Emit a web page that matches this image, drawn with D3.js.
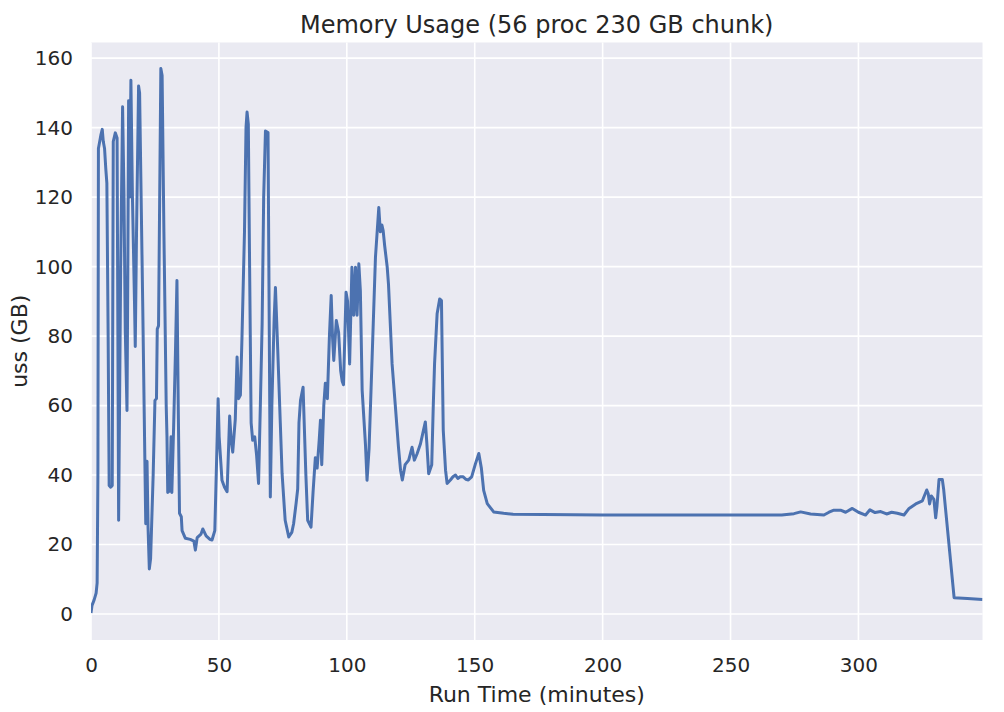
<!DOCTYPE html>
<html>
<head>
<meta charset="utf-8">
<script src="https://cdn.jsdelivr.net/npm/d3@7"></script>
<style>
  body { margin: 0; background: #fff; }
  svg text { font-family: "DejaVu Sans", sans-serif; fill: #262626; }
</style>
</head>
<body>
<svg id="chart" width="1004" height="712"></svg>
<script>
// run time in minutes
var minutes = [
  0, 0.4, 1.2, 2.0, 2.4, 2.7, 2.9, 3.4, 3.9, 4.4, 4.8, 5.3, 5.8, 6.2, 6.7, 7.1, 7.7, 8.3, 8.7, 9.5,
  10.2, 10.8, 11.6, 12.35, 12.9, 13.4, 14.07, 14.4, 14.7, 15.1, 15.6, 16.2, 17.0, 17.3, 17.8, 18.6, 19.0, 20.2, 21.4, 21.9,
  22.3, 22.8, 23.3, 24.3, 25.0, 25.6, 25.9, 26.4, 27.3, 27.8, 28.5, 29.4, 29.7, 30.0, 30.8, 31.3, 31.6, 32.3, 33.0, 33.6,
  34.1, 34.6, 35.3, 35.6, 36.9, 38.8, 40.2, 40.8, 41.5, 43.0, 43.7, 45.0, 46.5, 47.3, 48.4, 49.3, 49.7, 50.1, 51.2, 52.2,
  53.2, 54.2, 54.8, 55.4, 56.4, 57.1, 57.7, 58.4, 59.0, 60.0, 60.6, 61.0, 61.5, 62.0, 62.6, 63.2, 64.0, 64.7, 65.5, 66.2,
  66.9, 67.5, 68.2, 69.2, 69.7, 70.1, 70.7, 71.6, 72.1, 73.0, 74.0, 74.7, 75.9, 77.3, 78.5, 79.2, 80.2, 80.8, 81.3, 81.9,
  82.9, 83.3, 84.0, 84.7, 86.0, 86.8, 87.7, 88.4, 89.2, 89.7, 90.2, 91.0, 91.6, 92.4, 93.2, 93.9, 94.4, 94.9, 95.9, 96.8,
  97.6, 98.2, 98.7, 99.7, 100.3, 101.1, 102.0, 102.7, 103.4, 104.0, 104.7, 105.3, 106.0, 107.3, 107.9, 108.7, 109.9, 111.2, 112.5, 113.1,
  113.7, 114.2, 114.8, 115.8, 116.3, 117.7, 119.0, 120.2, 121.0, 121.7, 122.8, 124.2, 125.5, 126.4, 127.4, 128.8, 129.7, 130.7, 131.3, 132.0,
  133.2, 133.8, 134.3, 135.3, 136.3, 137.0, 137.7, 138.6, 139.2, 140.5, 141.5, 142.5, 143.4, 144.3, 145.5, 146.5, 147.5, 148.8, 150.3, 151.6,
  152.6, 153.5, 154.9, 157.4, 161.3, 165, 200, 250, 270, 274.8, 277.4, 281.3, 286.5, 288.5, 290.4, 293, 295, 297.6, 300, 302.8,
  304.5, 306.5, 308.7, 311, 313, 315.2, 317.8, 319.8, 322.4, 325, 326.7, 327.3, 327.8, 328.5, 329.5, 330.2, 330.7, 331.5, 332.8, 333.3,
  337.4, 342.6, 348.5
];

// uss in GB at each of those times
var ussGB = [
  0.3, 2.5, 4, 6, 9, 40, 134, 136, 138, 139.5, 136, 134, 128, 124, 80, 37, 36.5, 37, 136, 138.5,
  137, 27, 100, 146, 120, 81.6, 58.6, 100, 147.7, 120, 153.6, 120, 90, 77, 110, 152, 150, 90, 26, 44,
  25, 13, 16, 40, 61.5, 62, 82, 83, 157, 155, 110, 60, 51, 35, 35.5, 51, 35, 53.8, 75, 96,
  60, 29, 28, 24, 21.8, 21.5, 21, 18.4, 22, 23, 24.5, 22.5, 21.5, 21.3, 24, 50, 62, 51, 38.5, 36.5,
  35.2, 57, 50, 46.6, 56, 74, 62, 63, 79, 110, 140, 144.5, 141, 100, 55, 50, 51, 46, 37.6, 60,
  83.6, 120, 139, 138.6, 80, 33.7, 60, 85, 94, 76, 55, 40.4, 27, 22.2, 23.5, 26, 32, 36, 55, 61.5,
  65.3, 56, 40, 27, 25, 35, 45, 42, 50, 55.8, 43, 60, 66.4, 62, 80, 91.7, 80, 73, 84.5, 81,
  70, 67, 66, 92.6, 90, 72, 99.8, 86, 99.8, 86, 100.8, 93, 64.4, 48.7, 38.5, 47.6, 74, 102.7, 117, 110,
  112, 110.4, 106, 99.8, 94.8, 72, 59.6, 48, 41.4, 38.6, 43, 44.3, 48, 44.3, 46, 49, 52, 55.3, 49, 40.4,
  43, 60, 72, 86.4, 90.7, 90.2, 52.9, 41.4, 37.6, 38.6, 39.5, 40, 39, 39.5, 39.5, 38.8, 38.6, 39.5, 43.3, 46.2,
  42, 35.6, 31.8, 29.4, 29, 28.7, 28.5, 28.5, 28.5, 28.9, 29.4, 28.8, 28.5, 29.3, 29.9, 29.9, 29.3, 30.4, 29.3, 28.5,
  30, 29.2, 29.5, 28.8, 29.3, 29, 28.5, 30.4, 31.7, 32.6, 35.7, 34.6, 31.7, 34, 33, 27.7, 31, 38.7, 38.7, 36,
  4.7, 4.5, 4.2
];

var xTicks = [0, 50, 100, 150, 200, 250, 300];
var yTicks = [0, 20, 40, 60, 80, 100, 120, 140, 160];

var titleText = 'Memory Usage (56 proc 230 GB chunk)',
    xLabelText = 'Run Time (minutes)',
    yLabelText = 'uss (GB)';

var margin = { top: 42.5, right: 21.5, bottom: 72, left: 91 },
    width = 1004 - margin.left - margin.right,
    height = 712 - margin.top - margin.bottom;

var svg = d3.select('#chart');

var x = d3.scaleLinear().domain([0, 348.5]).range([0, width]);
var y = d3.scaleLinear().domain([-7.47, 164.5]).range([height, 0]);

var g = svg.append('g')
    .attr('transform', 'translate(' + margin.left + ',' + margin.top + ')');

// seaborn darkgrid face
g.append('rect')
    .attr('width', width)
    .attr('height', height)
    .attr('fill', '#EAEAF2');

// grid lines
g.append('g')
    .attr('class', 'grid')
    .selectAll('line.xg')
    .data(xTicks)
    .enter().append('line')
    .attr('x1', function (d) { return x(d); })
    .attr('x2', function (d) { return x(d); })
    .attr('y1', 0)
    .attr('y2', height)
    .attr('stroke', '#fff')
    .attr('stroke-width', 1.6);

g.append('g')
    .attr('class', 'grid')
    .selectAll('line.yg')
    .data(yTicks)
    .enter().append('line')
    .attr('x1', 0)
    .attr('x2', width)
    .attr('y1', function (d) { return y(d); })
    .attr('y2', function (d) { return y(d); })
    .attr('stroke', '#fff')
    .attr('stroke-width', 1.6);

// axes, no spines, no tick marks
var xAxis = g.append('g')
    .attr('transform', 'translate(0,' + height + ')')
    .call(d3.axisBottom(x).tickValues(xTicks).tickSize(0).tickPadding(18).tickFormat(d3.format('d')));

var yAxis = g.append('g')
    .call(d3.axisLeft(y).tickValues(yTicks).tickSize(0).tickPadding(18).tickFormat(d3.format('d')));

[xAxis, yAxis].forEach(function (a) {
  a.select('.domain').remove();
  a.selectAll('text')
    .attr('fill', '#262626')
    .style('font-family', '"DejaVu Sans", sans-serif')
    .style('font-size', '20px');
});

// the memory line
svg.append('defs').append('clipPath')
    .attr('id', 'plot-clip')
    .append('rect')
    .attr('width', width)
    .attr('height', height);

var line = d3.line()
    .x(function (d) { return x(d[0]); })
    .y(function (d) { return y(d[1]); });

g.append('path')
    .datum(d3.zip(minutes, ussGB))
    .attr('clip-path', 'url(#plot-clip)')
    .attr('fill', 'none')
    .attr('stroke', '#4C72B0')
    .attr('stroke-width', 3)
    .attr('stroke-linejoin', 'round')
    .attr('d', line);

// title and labels
svg.append('text')
    .attr('x', margin.left + width / 2)
    .attr('y', 33)
    .attr('text-anchor', 'middle')
    .style('font-size', '24px')
    .text(titleText);

svg.append('text')
    .attr('x', margin.left + width / 2)
    .attr('y', 702)
    .attr('text-anchor', 'middle')
    .style('font-size', '22px')
    .text(xLabelText);

svg.append('text')
    .attr('transform', 'translate(26.5,' + (margin.top + height / 2) + ') rotate(-90)')
    .attr('text-anchor', 'middle')
    .style('font-size', '22px')
    .text(yLabelText);
</script>
</body>
</html>
